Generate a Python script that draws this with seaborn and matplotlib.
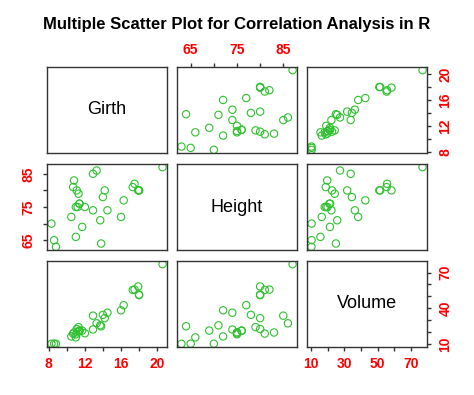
import numpy as np
import pandas as pd
import seaborn as sns
import matplotlib
matplotlib.use('Agg')
import matplotlib.pyplot as plt

# trees data
girth = [8.3, 8.6, 8.8, 10.5, 10.7, 10.8, 11.0, 11.0, 11.1, 11.2, 11.3, 11.4, 11.4, 11.7, 12.0, 12.9,
         12.9, 13.3, 13.7, 13.8, 14.0, 14.2, 14.5, 16.0, 16.3, 17.3, 17.5, 17.9, 18.0, 18.0, 20.6]
height = [70, 65, 63, 72, 81, 83, 66, 75, 80, 75, 79, 76, 76, 69, 75, 74,
          85, 86, 71, 64, 78, 80, 74, 72, 77, 81, 82, 80, 80, 80, 87]
volume = [10.3, 10.3, 10.2, 16.4, 18.8, 19.7, 15.6, 18.2, 22.6, 19.9, 24.2, 21.0, 21.4, 21.3, 19.1, 22.2,
          33.8, 27.4, 25.7, 24.9, 34.5, 31.7, 36.3, 38.3, 42.6, 55.4, 55.7, 58.3, 51.5, 51.0, 77.0]
var_names = ['Girth', 'Height', 'Volume']
tick_pos = {'Girth': [8, 10, 12, 14, 16, 18, 20],
            'Height': [65, 70, 75, 80, 85],
            'Volume': [10, 20, 30, 40, 50, 60, 70]}
tick_lab = {'Girth': ['8', '', '12', '', '16', '', '20'],
            'Height': ['65', '', '75', '', '85'],
            'Volume': ['10', '', '30', '', '50', '', '70'],
            'Volume_y': ['10', '', '', '40', '', '', '70']}

df = pd.DataFrame({'Girth': girth, 'Height': height, 'Volume': volume})

sns.set_style('white')
plt.rcParams['font.family'] = ['Liberation Sans', 'DejaVu Sans']

W, H = 474, 395
fig = plt.figure(figsize=(W / 100, H / 100), dpi=100)
fig.text(237 / W, 1 - 24 / H, 'Multiple Scatter Plot for Correlation Analysis in R',
         ha='center', va='center', fontsize=12, fontweight='bold', color='black')

xs = [47, 177, 307]
ys = [67, 164, 261]
pw, ph = 120, 86

def lims(col):
    lo, hi = df[col].min(), df[col].max()
    pad = (hi - lo) * 0.04
    return lo - pad, hi + pad

tick_kw = dict(colors='#333333', labelcolor='red', length=3.2, width=1, labelsize=10)

for i, yv in enumerate(var_names):
    for j, xv in enumerate(var_names):
        ax = fig.add_axes([xs[j] / W, 1 - (ys[i] + ph) / H, pw / W, ph / H])
        for s in ax.spines.values():
            s.set_color('#333333')
            s.set_linewidth(1.0)
            s.set_visible(True)
        ax.set_xlim(lims(xv))
        ax.set_ylim(lims(yv))
        if i == j:
            ax.text(0.5, 0.5, xv, transform=ax.transAxes, ha='center', va='center',
                    fontsize=13, color='black')
        else:
            sns.scatterplot(data=df, x=xv, y=yv, ax=ax, marker='o', s=28,
                            facecolors='none', edgecolor='#2ec12e', linewidth=0.8, legend=False)
        ax.set_xlabel('')
        ax.set_ylabel('')
        ax.set_xticks([])
        ax.set_yticks([])
        # x axis ticks: alternate top/bottom
        if (i == 0 and j == 1) or (i == 2 and j in (0, 2)):
            ax.set_xticks(tick_pos[xv])
            ax.set_xticklabels(tick_lab[xv], fontweight='bold')
            top = i == 0
            ax.tick_params(axis='x', direction='out', pad=4, top=top, labeltop=top,
                           bottom=not top, labelbottom=not top, **tick_kw)
        # y axis ticks: alternate left/right
        if (j == 2 and i in (0, 2)) or (j == 0 and i == 1):
            ax.set_yticks(tick_pos[yv])
            lab = tick_lab['Volume_y'] if yv == 'Volume' else tick_lab[yv]
            ax.set_yticklabels(lab, fontweight='bold', rotation=90, va='center')
            right = j == 2
            ax.tick_params(axis='y', direction='out', pad=5, right=right, labelright=right,
                           left=not right, labelleft=not right, **tick_kw)

fig.savefig('out.png', dpi=100)
